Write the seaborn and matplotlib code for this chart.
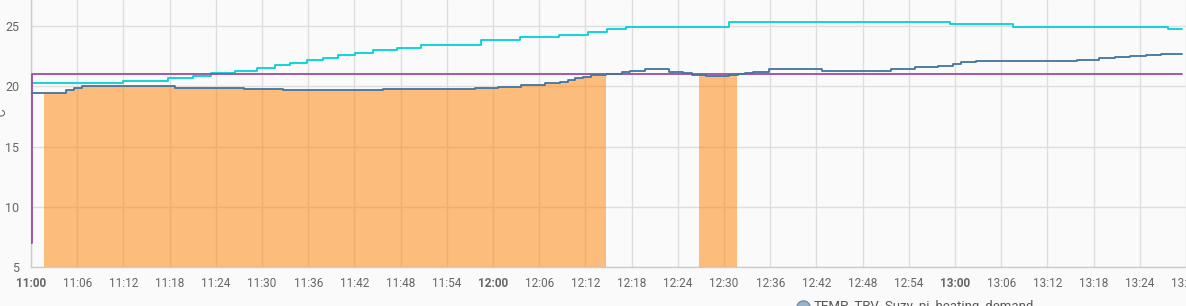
import numpy as np
import pandas as pd
import matplotlib
matplotlib.use("Agg")
import matplotlib.pyplot as plt
import matplotlib.dates as mdates
import matplotlib.lines as mlines
import seaborn as sns

# ---- data (minutes after 11:00) ----
temp_t = [0, 4.6, 5.6, 6.6, 18.7, 27.7, 32.7, 45.7, 57.7, 60.7, 63.7, 66.7, 68.7, 69.7,
          70.7, 71.7, 72.7, 74.7, 76.7, 77.8, 79.7, 82.8, 84.7, 85.8, 87.7, 90.7, 91.8,
          92.7, 93.8, 95.8, 102.7, 111.7, 114.8, 117.8, 119.8, 120.8, 122.7, 135.8,
          138.7, 140.8, 142.7, 144.8, 146.8, 149.5]
temp_v = [19.45, 19.66, 19.88, 20.0, 19.85, 19.77, 19.66, 19.77, 19.85, 19.96, 20.07, 20.24,
          20.35, 20.49, 20.66, 20.77, 20.9, 21.04, 21.18, 21.29, 21.4, 21.18, 21.07, 20.93,
          20.82, 20.93, 20.99, 21.07, 21.18, 21.4, 21.29, 21.4, 21.57, 21.68, 21.87, 21.99,
          22.07, 22.2, 22.32, 22.4, 22.51, 22.59, 22.7, 22.7]

cyan_t = [0, 12, 17.8, 21, 23.4, 26.5, 29.4, 31.7, 33.7, 35.9, 37.9, 39.9, 42.1, 44.4,
          47.5, 50.7, 58.4, 63.5, 68.6, 72.3, 74.8, 77.3, 90.6, 119.3, 127.5, 147.6, 149.5]
cyan_v = [20.24, 20.46, 20.68, 20.85, 21.07, 21.29, 21.54, 21.74, 21.96, 22.18, 22.37,
          22.59, 22.78, 23.0, 23.2, 23.42, 23.86, 24.06, 24.28, 24.53, 24.72, 24.92, 25.36,
          25.14, 24.92, 24.75, 24.75]

setp_t = [0, 0.1, 149.5]
setp_v = [7, 21, 21]

heat_start = [1.7, 86.8]
heat_end = [74.7, 91.7]

y_ticks = [5, 10, 15, 20, 25]
legend_label = "TEMP_TRV_Suzy_pi_heating_demand"

BASE = pd.Timestamp("2024-01-01 11:00")


def to_time(mins):
    return BASE + pd.to_timedelta(np.asarray(mins, dtype=float), unit="min")


df = pd.concat([
    pd.DataFrame({"time": to_time(cyan_t), "value": cyan_v, "series": "cyan"}),
    pd.DataFrame({"time": to_time(setp_t), "value": setp_v, "series": "setpoint"}),
    pd.DataFrame({"time": to_time(temp_t), "value": temp_v, "series": "temp"}),
], ignore_index=True)

palette = {"cyan": "#00d2d5", "setpoint": "#984ea3", "temp": "#44739e"}

sns.set_theme(style="white")
plt.rcParams["font.family"] = ["Roboto", "DejaVu Sans"]

fig = plt.figure(figsize=(11.86, 3.06), dpi=100, facecolor="#fafafa")
ax = fig.add_axes([31 / 1186, (306 - 267) / 306, 1 - 31 / 1186, 267 / 306])
ax.set_facecolor("#fafafa")

# heating demand fill under the temperature
tt = np.array(temp_t)
tv = np.array(temp_v)
for s, e in zip(heat_start, heat_end):
    inner = tt[(tt > s) & (tt < e)]
    grid = np.concatenate([[s], inner, [e]])
    idx = np.searchsorted(tt, grid, side="right") - 1
    vals = tv[idx]
    ax.fill_between(to_time(grid), 5, vals, step="post", color="#ff7f00",
                    alpha=0.5, linewidth=0, zorder=2)

sns.lineplot(data=df, x="time", y="value", hue="series", palette=palette,
             drawstyle="steps-post", estimator=None, legend=False, linewidth=1.3,
             ax=ax, zorder=3)

ax.set_xlim(to_time([0])[0], to_time([149.0])[0])
ax.set_ylim(5, 27.16)
ax.set_yticks(y_ticks)
ax.set_yticklabels([str(v) for v in y_ticks])

xt = pd.date_range(BASE, BASE + pd.Timedelta(minutes=150), freq="6min")
ax.set_xticks(xt)
ax.set_xticklabels([t.strftime("%H:%M") for t in xt])
for lab, t in zip(ax.get_xticklabels(), xt):
    if t.minute == 0:
        lab.set_fontweight("bold")
        lab.set_color("#555555")

ax.grid(True, color="#dedede", linewidth=1.0)
ax.set_axisbelow(True)
for side in ["top", "right"]:
    ax.spines[side].set_visible(False)
for side in ["left", "bottom"]:
    ax.spines[side].set_color("#cccccc")
    ax.spines[side].set_linewidth(1.0)

ax.tick_params(axis="y", length=7, width=1, color="#dedede", pad=1.5,
               labelsize=9, labelcolor="#666666")
ax.tick_params(axis="x", length=4, width=1, color="#cccccc", pad=3,
               labelsize=8.5, labelcolor="#666666")
ax.set_xlabel("")
ax.set_ylabel("")

# partially visible y-axis label
fig.text(-0.004, 0.63, "°C", rotation=90, fontsize=9, color="#666666",
         ha="left", va="center")

# legend (partially cut off at the bottom)
fig.add_artist(mlines.Line2D([802.5 / 1186], [1 - 307 / 306], marker="o",
                             markersize=9.5, markerfacecolor="#9ab3cc",
                             markeredgecolor="#6f8fb0", markeredgewidth=1.0,
                             linestyle="none", transform=fig.transFigure))
fig.text(814 / 1186, 1 - 300 / 306, legend_label, fontsize=9.5, color="#555555",
         ha="left", va="top")

fig.savefig("out.png", dpi=100, facecolor="#fafafa")
